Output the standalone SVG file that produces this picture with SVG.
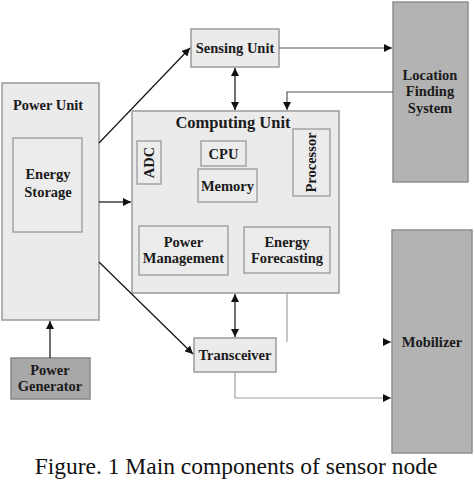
<svg xmlns="http://www.w3.org/2000/svg" width="474" height="482" viewBox="0 0 474 482">
<defs>
<style>
.box{fill:#ebebeb;stroke:#9a9a9a;stroke-width:1.5}
.inner{fill:#ececec;stroke:#9a9a9a;stroke-width:1.3}
.dark{fill:#b3b3b3;stroke:#8e8e8e;stroke-width:1.5}
.gen{fill:#a8a8a8;stroke:#878787;stroke-width:1.5}
text{font-family:"Liberation Serif","Times New Roman",serif;font-weight:bold;fill:#1a1a1a;text-anchor:middle;font-size:14.5px}
.cap{font-weight:normal;font-size:23.5px;fill:#111}
.ln{fill:none;stroke:#111;stroke-width:1.2}
.gl{fill:none;stroke:#a0a0a0;stroke-width:1.2}
.gd{fill:none;stroke:#555;stroke-width:1.2}
</style>
<marker id="ah" viewBox="0 0 10 10" refX="10" refY="5" markerWidth="8" markerHeight="8" markerUnits="userSpaceOnUse" orient="auto-start-reverse">
<path d="M0,0 L10,5 L0,10 z" fill="#111"/>
</marker>
</defs>

<g id="power-unit">
<rect class="box" x="2" y="83" width="97" height="237"/>
<text x="48" y="110">Power Unit</text>
</g>
<g id="energy-storage">
<rect class="inner" x="13" y="138" width="69" height="94"/>
<text x="48" y="179">Energy</text>
<text x="48" y="197">Storage</text>
</g>
<g id="sensing-unit">
<rect class="box" x="191" y="29" width="88" height="38"/>
<text x="235" y="53">Sensing Unit</text>
</g>
<g id="location-finding-system">
<rect class="dark" x="393" y="2" width="75" height="180"/>
<text x="430" y="80">Location</text>
<text x="430" y="96">Finding</text>
<text x="430" y="113">System</text>
</g>
<g id="computing-unit">
<rect class="box" x="132" y="111" width="207" height="182"/>
<text x="233" y="128" style="font-size:16.5px">Computing Unit</text>
</g>
<g id="adc">
<rect class="inner" x="137" y="141" width="24" height="43"/>
<text transform="translate(154,162.5) rotate(-90)">ADC</text>
</g>
<g id="cpu">
<rect class="inner" x="201" y="141" width="45" height="25"/>
<text x="223.5" y="158.5">CPU</text>
</g>
<g id="memory">
<rect class="inner" x="198" y="169" width="59" height="33"/>
<text x="227.5" y="190.5">Memory</text>
</g>
<g id="processor">
<rect class="inner" x="293" y="129" width="37" height="67"/>
<text transform="translate(316,162.5) rotate(-90)">Processor</text>
</g>
<g id="power-management">
<rect class="inner" x="139" y="226" width="89" height="49"/>
<text x="183.5" y="247">Power</text>
<text x="183.5" y="263">Management</text>
</g>
<g id="energy-forecasting">
<rect class="inner" x="244" y="227" width="86" height="46"/>
<text x="287" y="247">Energy</text>
<text x="287" y="263">Forecasting</text>
</g>
<g id="transceiver">
<rect class="box" x="194" y="338" width="82" height="34"/>
<text x="235" y="359.5">Transceiver</text>
</g>
<g id="mobilizer">
<rect class="dark" x="392" y="230" width="80" height="223"/>
<text x="432" y="346.5">Mobilizer</text>
</g>
<g id="power-generator">
<rect class="gen" x="11" y="358" width="79" height="41"/>
<text x="50" y="374.5">Power</text>
<text x="50" y="391">Generator</text>
</g>

<g id="connectors">
<line class="ln" x1="99" y1="143" x2="190" y2="48" marker-end="url(#ah)"/>
<line class="gd" x1="279" y1="48" x2="392" y2="48" marker-end="url(#ah)"/>
<line class="ln" x1="235" y1="68" x2="235" y2="110" marker-start="url(#ah)" marker-end="url(#ah)"/>
<polyline class="gd" points="393,92 287,92 287,110" marker-end="url(#ah)"/>
<line class="ln" x1="99" y1="202" x2="131" y2="202" marker-end="url(#ah)"/>
<line class="ln" x1="99" y1="262" x2="193" y2="354" marker-end="url(#ah)"/>
<line class="ln" x1="235" y1="294" x2="235" y2="337" marker-start="url(#ah)" marker-end="url(#ah)"/>
<line class="gl" x1="287" y1="293" x2="287" y2="342"/>
<line class="gl" x1="384" y1="342" x2="391" y2="342" marker-end="url(#ah)"/>
<polyline class="gl" points="235,372 235,398 391,398" marker-end="url(#ah)"/>
<line class="ln" x1="50" y1="358" x2="50" y2="321" marker-end="url(#ah)"/>
</g>

<text class="cap" x="236" y="474">Figure. 1 Main components of sensor node</text>
</svg>
